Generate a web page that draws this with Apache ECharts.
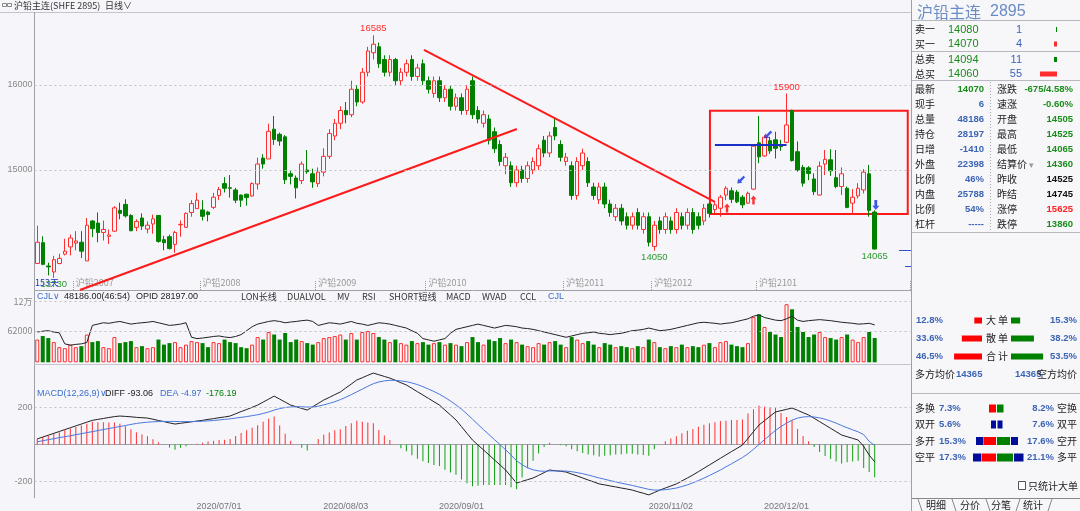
<!DOCTYPE html>
<html>
<head>
<meta charset="utf-8">
<script src="https://cdn.jsdelivr.net/npm/echarts/dist/echarts.min.js"></script>
<style>
  html, body { margin: 0; padding: 0; background: #f5f5fa; }
  #main { width: 1080px; height: 511px; }
</style>
</head>
<body>
<div id="main"></div>
<script>
// ---- trading days shown (153) ----
const tradingDays = [
  ['2020/05', [13,14,15,18,19,20,21,22,25,26,27,28,29]],
  ['2020/06', [1,2,3,4,5,8,9,10,11,12,15,16,17,18,19,22,23,24,29,30]],
  ['2020/07', [1,2,3,6,7,8,9,10,13,14,15,16,17,20,21,22,23,24,27,28,29,30,31]],
  ['2020/08', [3,4,5,6,7,10,11,12,13,14,17,18,19,20,21,24,25,26,27,28,31]],
  ['2020/09', [1,2,3,4,7,8,9,10,11,14,15,16,17,18,21,22,23,24,25,28,29,30]],
  ['2020/10', [9,12,13,14,15,16,19,20,21,22,23,26,27,28,29,30]],
  ['2020/11', [2,3,4,5,6,9,10,11,12,13,16,17,18,19,20,23,24,25,26,27,30]],
  ['2020/12', [1,2,3,4,7,8,9,10,11,14,15,16,17,18,21,22,23]]
];
const dates = tradingDays.flatMap(([m, ds]) => ds.map(d => m + '/' + String(d).padStart(2, '0')));

const opens = [
  13900,14145,13870,13800,13900,14010,14095,14140,14150,13930,
  14400,14375,14265,14220,14280,14525,14595,14465,14325,14435,
  14305,14365,14465,14180,14215,14125,14355,14325,14500,14545,
  14530,14505,14560,14700,14840,14790,14765,14705,14715,14695,
  14835,15140,15130,15480,15420,15390,14955,14905,14875,15000,
  14955,14840,14975,15160,15400,15550,15700,15650,15950,15800,
  16150,16380,16450,16300,16150,16300,16050,16150,16300,16100,
  16250,16050,15900,16050,15850,15950,15750,15850,15700,16050,
  15700,15550,15600,15450,15300,15050,15050,14850,15000,14900,
  15000,15050,15350,15200,15500,15300,15100,15050,14700,15050,
  15100,14800,14650,14800,14600,14450,14550,14450,14350,14500,
  14300,14450,14100,14400,14300,14400,14300,14450,14350,14500,
  14450,14400,14600,14535,14550,14705,14755,14740,14680,14610,
  14775,15320,15165,15345,15355,15300,15325,15700,15215,15030,
  15025,14895,14705,15070,15120,14910,14805,14785,14610,14695,
  14765,14955,14505
];
const closes = [
  14150,13890,13860,13945,13960,14045,14200,14165,14045,14350,
  14310,14265,14300,14235,14555,14490,14460,14285,14395,14340,
  14350,14425,14160,14145,14075,14265,14360,14490,14605,14645,
  14455,14475,14680,14770,14785,14785,14645,14645,14675,14840,
  15070,15070,15455,15360,15340,14885,14925,14790,15070,14980,
  14860,14975,15160,15430,15550,15700,15650,15950,15800,16150,
  16400,16480,16250,16150,16300,16050,16150,16250,16100,16200,
  16050,15950,16050,15850,15950,15750,15850,15700,15950,15650,
  15600,15650,15350,15250,15100,15150,14850,15000,14900,15050,
  15100,15250,15200,15400,15400,15150,15150,14700,15100,15200,
  14850,14700,14800,14600,14500,14550,14400,14350,14450,14350,
  14450,14150,14350,14300,14450,14300,14500,14350,14500,14300,
  14350,14550,14490,14590,14680,14785,14655,14625,14590,14725,
  15280,15155,15385,15225,15255,15275,15530,15110,15000,14845,
  14960,14745,15045,15125,14990,14805,14955,14560,14680,14785,
  14975,14525,14070
];
const lows = [
  13895,13880,13760,13730,13890,13995,13995,14055,13965,13930,
  14210,14150,14170,14130,14270,14420,14440,14280,14280,14295,
  14255,14250,14145,14055,14065,14025,14215,14320,14450,14540,
  14405,14395,14540,14645,14735,14675,14610,14565,14580,14685,
  14770,15015,15130,15295,15285,14835,14830,14665,14835,14955,
  14790,14800,14925,15130,15350,15480,15550,15620,15750,15780,
  16100,16300,16200,16100,16100,16000,16000,16100,16050,16050,
  16000,15900,15850,15800,15800,15700,15700,15650,15650,15600,
  15550,15500,15300,15200,15050,14950,14800,14800,14850,14850,
  14950,15000,15150,15150,15350,15100,15050,14650,14650,15000,
  14800,14650,14600,14550,14450,14400,14350,14300,14300,14300,
  14250,14100,14050,14250,14250,14250,14250,14300,14300,14250,
  14300,14350,14440,14490,14450,14645,14610,14610,14550,14600,
  14765,15080,15155,15190,15135,15225,15315,15100,14980,14805,
  14880,14705,14700,14940,14930,14785,14705,14550,14470,14665,
  14725,14450,14065
];
const highs = [
  14345,14220,13910,13990,14015,14190,14240,14280,14280,14435,
  14410,14500,14405,14300,14575,14615,14655,14480,14420,14490,
  14395,14475,14465,14225,14240,14285,14405,14500,14645,14730,
  14645,14520,14730,14800,14915,14940,14790,14710,14720,14855,
  15145,15185,15545,15635,15440,15410,15000,14935,15100,15235,
  15015,15030,15255,15480,15600,15750,15800,16050,16000,16200,
  16450,16585,16500,16350,16350,16320,16200,16300,16350,16250,
  16300,16100,16100,16100,16000,16000,15900,15900,16000,16100,
  15750,15700,15650,15500,15350,15200,15100,15050,15050,15100,
  15150,15300,15400,15450,15600,15350,15200,15100,15150,15250,
  15150,14850,14850,14850,14650,14600,14600,14500,14500,14550,
  14500,14500,14400,14450,14500,14450,14550,14500,14550,14550,
  14500,14600,14615,14625,14705,14810,14795,14765,14705,14745,
  15295,15635,15410,15390,15450,15355,15900,15710,15335,15060,
  15045,14960,15100,15235,15245,15235,15030,14805,14775,14845,
  15010,15060,14525
];
const volumes = [
  45000,52000,48000,40000,30000,28000,35000,30000,32000,55000,
  40000,42000,30000,28000,50000,38000,40000,42000,30000,32000,
  28000,30000,45000,35000,38000,40000,30000,35000,42000,40000,
  38000,30000,40000,38000,45000,40000,38000,30000,28000,35000,
  50000,45000,60000,55000,45000,58000,40000,45000,42000,38000,
  35000,40000,48000,50000,52000,55000,45000,58000,45000,60000,
  62000,58000,50000,45000,40000,45000,38000,35000,42000,38000,
  40000,35000,38000,40000,35000,38000,35000,32000,40000,50000,
  40000,35000,45000,42000,48000,38000,45000,40000,35000,32000,
  30000,38000,35000,40000,42000,35000,30000,50000,45000,38000,
  42000,35000,30000,38000,35000,30000,32000,30000,28000,32000,
  30000,45000,40000,30000,28000,32000,30000,35000,30000,32000,
  30000,35000,38000,30000,40000,42000,35000,32000,30000,38000,
  90000,95000,70000,60000,55000,50000,115000,105000,70000,60000,
  50000,55000,60000,50000,48000,45000,50000,55000,45000,40000,
  50000,60000,48186
];
const openInterest = [
  25500,25800,26000,25500,25200,21000,20500,20800,21000,21500,
  28000,28500,29000,28800,29200,29500,29000,28500,28800,29000,
  29200,29500,29000,28500,28000,28200,28500,29000,23500,23000,
  23200,23500,23800,24000,23600,23400,23800,24500,26000,27500,
  28500,29000,29500,29800,29500,29000,29300,29500,29800,30000,
  29500,28000,28500,29000,28800,28500,29000,29500,28800,28500,
  28000,28500,29000,28800,28500,28000,27500,27000,26000,25000,
  23000,22500,22000,22500,23000,25000,26500,27000,27500,28000,
  28500,28000,27500,27000,27500,28000,27800,27500,27000,26800,
  26500,26000,25500,25000,24500,24000,23500,24000,24500,25000,
  25200,25500,25000,24800,24500,24800,25000,25500,26000,26200,
  26500,27000,26500,26000,26200,26500,27000,27500,28000,28500,
  29000,29200,29000,28800,28500,28800,29000,29500,30000,30500,
  31500,32000,31000,30500,30000,29800,30500,31500,30000,29500,
  29800,30000,30200,30000,29800,29500,29200,29000,28800,28500,
  28600,28800,28197
];
const diffs = [
  30,40,50,60,70,80,90,100,110,120,
  130,135,140,145,150,153,151,149,146,144,
  142,136,129,123,116,110,114,118,122,126,
  130,135,139,144,148,153,165,177,188,200,
  212,228,244,260,244,228,212,203,194,185,
  203,221,239,253,268,282,304,325,347,359,
  372,384,375,366,357,345,332,320,302,284,
  266,248,230,212,185,159,132,96,60,24,
  -3,-29,-56,-83,-110,-137,-172,-207,-198,-189,
  -180,-166,-151,-137,-141,-144,-148,-159,-169,-180,
  -191,-201,-212,-217,-223,-228,-234,-239,-245,-254,
  -262,-271,-258,-245,-234,-223,-212,-196,-180,-164,
  -146,-128,-110,-92,-74,-56,-38,-21,-3,33,
  69,105,128,152,175,182,189,196,184,171,
  159,141,123,105,87,69,51,42,33,24,
  -10,-57,-93.06
];
const deas = [
  15,20,26,31,37,42,47,53,58,64,
  69,75,80,86,91,97,102,108,113,117,
  120,122,123,124,124,124,123,123,123,124,
  125,127,129,132,135,138,142,146,150,155,
  160,167,175,185,193,199,202,203,203,201,
  202,206,213,221,230,241,254,268,283,298,
  313,327,336,342,345,345,342,338,331,322,
  311,298,285,270,253,234,213,190,164,136,
  108,80,53,26,-1,-28,-57,-87,-109,-125,
  -136,-142,-144,-142,-142,-142,-143,-146,-151,-157,
  -164,-172,-180,-187,-194,-201,-208,-214,-220,-227,
  -234,-241,-245,-245,-243,-239,-234,-226,-217,-206,
  -194,-181,-167,-152,-137,-120,-104,-87,-70,-50,
  -26,0,26,51,76,97,115,131,142,148,
  150,148,143,136,126,115,102,90,79,68,
  53,17,-4.97
];
const macdBars = [
  30,40,48,58,66,76,86,94,104,112,
  122,120,120,118,118,112,98,82,66,54,
  44,28,12,-2,-16,-28,-18,-10,-2,4,
  10,16,20,24,26,30,46,62,76,90,
  104,122,138,150,102,58,20,0,-18,-32,
  2,30,52,64,76,82,100,114,128,122,
  118,114,78,48,24,0,-20,-36,-58,-76,
  -90,-100,-110,-116,-136,-150,-162,-188,-208,-224,
  -222,-218,-218,-218,-218,-218,-230,-240,-178,-128,
  -88,-48,-14,10,2,-4,-10,-26,-36,-46,
  -54,-58,-64,-60,-58,-54,-52,-50,-50,-54,
  -56,-60,-26,0,18,32,44,60,74,84,
  96,106,114,120,126,128,132,132,134,166,
  190,210,204,202,198,170,148,130,84,46,
  18,-14,-40,-62,-78,-92,-102,-96,-92,-88,
  -126,-148,-176.19
];

// axis marks
const contractMarks = {7: '沪铅2007', 30: '沪铅2008', 51: '沪铅2009', 71: '沪铅2010', 96: '沪铅2011', 112: '沪铅2012', 131: '沪铅2101'};
const dateMarks = ['2020/07/01', '2020/08/03', '2020/09/01', '2020/11/02', '2020/12/01'];
const priceLines = [16000, 15000];
const volumeLines = [[120000, '12万'], [62000, '62000']];
const macdLines = [200, -200];

// drawn studies (index, price)
const supportLine = [[7.75, 13588], [87.06, 15482]];
const resistLine = [[70.2, 16412], [123.0, 14624]];
const boxLine = [[123.0, 15294], [136.0, 15294]];
const boxArea = [[122.1, 15698], [158.0, 14482]];
const upArrows = [[125.2, 14553], [130.0, 14647]];
const diagArrows = [[127.7, 14882], [132.6, 15412]];
const downArrows = [[152.2, 14588]];

// ---------------------------------------------------------------
const RED = '#ff2e2e', GREEN = '#008000', BG = '#f5f5fa', BLUE = '#3c64b4';
const CJK = '"Noto Sans CJK SC", sans-serif';
const NUM = '"Liberation Sans", Arial, sans-serif';
const L = 34.5, W = 876, SLOTS = 159;
const axisCats = dates.concat(new Array(SLOTS - dates.length).fill(''));
const up = dates.map((d, i) => closes[i] >= opens[i]);
const arrowPath = 'path://M5,0 L10,5 L7,5 L7,12 L3,12 L3,5 L0,5 Z';

function text(x, y, s, fill, font, align) {
  return { type: 'text', silent: true, style: { x, y, text: s, fill, font, textAlign: align || 'left', textVerticalAlign: 'middle', verticalAlign: 'middle' } };
}
function hline(x1, x2, y, stroke, dash) {
  return { type: 'line', silent: true, shape: { x1, y1: y, x2, y2: y }, style: { stroke: stroke || '#b8b8c0', lineWidth: 1, lineDash: dash || null } };
}
function vline(x, y1, y2, stroke, dash) {
  return { type: 'line', silent: true, shape: { x1: x, y1, x2: x, y2 }, style: { stroke: stroke || '#b8b8c0', lineWidth: 1, lineDash: dash || null } };
}
function box(x, y, w, h, fill) {
  return { type: 'rect', silent: true, shape: { x, y, width: w, height: h }, style: { fill } };
}

const G = [];
// header
G.push({ type: 'rect', silent: true, shape: { x: 2.5, y: 3.5, width: 4, height: 3 }, style: { fill: 'none', stroke: '#888' } });
G.push({ type: 'rect', silent: true, shape: { x: 7.5, y: 3.5, width: 4, height: 3 }, style: { fill: 'none', stroke: '#888' } });
G.push(text(14, 5.5, '沪铅主连(SHFE 2895)', '#333', '9px ' + CJK));
G.push(text(105, 5.5, '日线∨', '#333', '9px ' + CJK));
G.push(hline(0, 911, 12.5, '#c4c4cc'));
G.push(vline(34.5, 12, 498, '#a0a0a8'));
G.push(hline(34, 911, 364.5, '#c4c4cc'));
G.push(text(35, 283, '153天', '#2030c0', '9px ' + CJK));
G.push(hline(899, 911, 250.5, '#3050d0'));
G.push(hline(905, 911, 266.5, '#3050d0'));

// volume header
G.push(text(37, 296.5, 'CJL∨', '#3a6fd0', '9px ' + NUM));
G.push(text(64, 296.5, '48186.00(46:54)', '#222', '9px ' + NUM));
G.push(text(136, 296.5, 'OPID 28197.00', '#222', '9px ' + NUM));
[['LON长线', 241], ['DUALVOL', 287], ['MV', 337], ['RSI', 362], ['SHORT短线', 389], ['MACD', 446], ['WVAD', 482], ['CCL', 520]]
  .forEach(([s, x]) => G.push(text(x, 296.5, s, '#333', '9px ' + CJK)));
G.push(text(548, 296.5, 'CJL', '#3a6fd0', '9px ' + NUM));

// macd header
G.push(text(37, 394, 'MACD(12,26,9)∨', '#3a6fd0', '9px ' + NUM));
G.push(text(105, 394, 'DIFF -93.06', '#222', '9px ' + NUM));
G.push(text(160, 394, 'DEA -4.97', '#3a6fd0', '9px ' + NUM));
G.push(text(206, 394, '-176.19', GREEN, '9px ' + NUM));

// right panel
G.push(box(912, 0, 168, 511, '#f7f7fa'));
G.push(vline(911.5, 0, 511, '#a0a0a8'));
G.push(text(917, 12, '沪铅主连', '#6a8cc4', '16px ' + CJK));
G.push(text(990, 12, '2895', '#6a8cc4', '16px ' + NUM));
[20.5, 51.5, 80.5, 232.5, 393.5].forEach(y => G.push(hline(912, 1080, y)));

const quoteRows = [
  ['卖一', '14080', '1', 29.5, GREEN, 1],
  ['买一', '14070', '4', 44, RED, 3],
  ['总卖', '14094', '11', 59.5, GREEN, 3],
  ['总买', '14060', '55', 74, RED, 17]
];
quoteRows.forEach(([lab, px, qty, y, c, w]) => {
  G.push(text(915, y, lab, '#222', '10px ' + CJK));
  G.push(text(948, y, px, '#1a8c1a', '11px ' + NUM));
  G.push(text(1022, y, qty, BLUE, '11px ' + NUM, 'right'));
  G.push(box(1057 - w, y - 2.5, w, 5, c));
});

const infoLeft = [['最新', '14070', '#1a8c1a'], ['现手', '6', BLUE], ['总量', '48186', BLUE], ['持仓', '28197', BLUE], ['日增', '-1410', BLUE],
  ['外盘', '22398', BLUE], ['比例', '46%', BLUE], ['内盘', '25788', BLUE], ['比例', '54%', BLUE], ['杠杆', '-----', BLUE]];
const infoRight = [['涨跌', '-675/4.58%', '#1a8c1a'], ['速涨', '-0.60%', '#1a8c1a'], ['开盘', '14505', '#1a8c1a'], ['最高', '14525', '#1a8c1a'],
  ['最低', '14065', '#1a8c1a'], ['结算价', '14360', '#1a8c1a'], ['昨收', '14525', '#111'], ['昨结', '14745', '#111'],
  ['涨停', '15625', '#ff2020'], ['跌停', '13860', '#1a8c1a']];
infoLeft.forEach(([lab, v, c], k) => {
  const y = 89.5 + 15 * k;
  G.push(text(915, y, lab, '#222', '10px ' + CJK));
  G.push(text(984, y, v, c, 'bold 9.5px ' + NUM, 'right'));
});
infoRight.forEach(([lab, v, c], k) => {
  const y = 89.5 + 15 * k;
  G.push(text(997, y, lab, '#222', '10px ' + CJK));
  G.push(text(1073, y, v, c, 'bold 9.5px ' + NUM, 'right'));
});
G.push(text(1029, 164.5, '▾', '#999', '9px ' + CJK));
G.push(vline(990.5, 82, 231, '#a8a8b0', [1, 2]));

// order flow
const flowRows = [['12.8%', '大 单', '15.3%', 12.8, 15.3, 320.5], ['33.6%', '散 单', '38.2%', 33.6, 38.2, 338.5], ['46.5%', '合 计', '53.5%', 46.5, 53.5, 356.5]];
flowRows.forEach(([lp, lab, rp, lv, rv, y]) => {
  G.push(text(916, y, lp, BLUE, 'bold 9.5px ' + NUM));
  G.push(box(982 - lv * 0.6, y - 3, lv * 0.6, 6, '#ff0000'));
  G.push(text(997, y, lab, '#222', '10px ' + CJK, 'center'));
  G.push(box(1011, y - 3, rv * 0.6, 6, GREEN));
  G.push(text(1077, y, rp, BLUE, 'bold 9.5px ' + NUM, 'right'));
});
G.push(text(915, 374.5, '多方均价', '#222', '10px ' + CJK));
G.push(text(956, 374.5, '14365', BLUE, 'bold 9.5px ' + NUM));
G.push(text(1015, 374.5, '14365', BLUE, 'bold 9.5px ' + NUM));
G.push(text(1077, 374.5, '空方均价', '#222', '10px ' + CJK, 'right'));

// position change
const posRows = [
  ['多换', '7.3%', '8.2%', '空换', 408.5, [[989, 7, '#ff0000'], [997, 6.5, GREEN]]],
  ['双开', '5.6%', '7.6%', '双平', 424.5, [[991, 5, '#000c9a'], [997.5, 5, '#000c9a']]],
  ['多开', '15.3%', '17.6%', '空开', 441, [[976, 7.5, '#000c9a'], [984, 12, '#ff0000'], [997, 13, GREEN], [1011, 7, '#000c9a']]],
  ['空平', '17.3%', '21.1%', '多平', 457.5, [[973, 8, '#000c9a'], [981.5, 14.5, '#ff0000'], [997, 16, GREEN], [1014, 9.5, '#000c9a']]]
];
posRows.forEach(([ll, lp, rp, rl, y, bars]) => {
  G.push(text(915, y, ll, '#222', '10px ' + CJK));
  G.push(text(939, y, lp, BLUE, 'bold 9.5px ' + NUM));
  G.push(text(1054, y, rp, BLUE, 'bold 9.5px ' + NUM, 'right'));
  G.push(text(1057, y, rl, '#222', '10px ' + CJK));
  bars.forEach(([x, w, c]) => G.push(box(x, y - 4, w, 8, c)));
});
G.push({ type: 'rect', silent: true, shape: { x: 1018.5, y: 481.5, width: 7, height: 8 }, style: { fill: '#fff', stroke: '#555' } });
G.push(text(1028, 486, '只统计大单', '#222', '10px ' + CJK));
G.push(hline(912, 1080, 498.5, '#888'));
[['明细', 936], ['分价', 970], ['分笔', 1001], ['统计', 1033]].forEach(([s, x]) => G.push(text(x, 505, s, '#222', '10px ' + CJK, 'center')));
[[918, 922], [952, 956], [986, 990]].forEach(([a, b]) => G.push({ type: 'line', silent: true, shape: { x1: a, y1: 499, x2: b, y2: 511 }, style: { stroke: '#888', lineWidth: 1 } }));
[[1020, 1016], [1052, 1048]].forEach(([a, b]) => G.push({ type: 'line', silent: true, shape: { x1: a, y1: 499, x2: b, y2: 511 }, style: { stroke: '#888', lineWidth: 1 } }));

// ---------------------------------------------------------------
const chart = echarts.init(document.getElementById('main'));
const hiddenCat = (grid) => ({ type: 'category', gridIndex: grid, data: axisCats, boundaryGap: true, show: false });
const labelMark = (i, v, txt, color, pos) => ({
  coord: [i, v], value: txt, symbol: 'rect', symbolSize: 1, itemStyle: { color: 'rgba(0,0,0,0)' },
  label: { show: true, position: pos, distance: 1, color, fontSize: 9.5, fontFamily: NUM, formatter: txt }
});
const dashed = { type: [2, 3], color: '#c0c0c8', width: 1 };

chart.setOption({
  animation: false,
  backgroundColor: BG,
  grid: [
    { left: L, width: W, top: 13, height: 277 },
    { left: L, width: W, top: 301.7, height: 60.6 },
    { left: L, width: W, top: 365, height: 133 }
  ],
  xAxis: [
    {
      type: 'category', gridIndex: 0, data: axisCats, boundaryGap: true,
      axisLine: { lineStyle: { color: '#a0a0a8' } },
      axisTick: { show: true, inside: true, length: 9, interval: (i) => contractMarks[i] !== undefined, lineStyle: { color: '#999', type: [1, 1] } },
      axisLabel: { inside: true, margin: 3, align: 'left', interval: (i) => contractMarks[i] !== undefined, formatter: (v, i) => contractMarks[i] || '', color: '#999', fontSize: 9, fontFamily: CJK },
      splitLine: { show: false }
    },
    hiddenCat(1),
    {
      type: 'category', gridIndex: 2, data: axisCats, boundaryGap: true,
      axisLine: { lineStyle: { color: '#a0a0a8' } },
      axisTick: { show: false },
      axisLabel: { margin: 4, interval: (i, v) => dateMarks.includes(v), color: '#777', fontSize: 9, fontFamily: NUM },
      splitLine: { show: false }
    },
    { type: 'value', gridIndex: 0, min: -0.5, max: SLOTS - 0.5, show: false }
  ],
  yAxis: [
    { type: 'value', gridIndex: 0, min: 13588, max: 16847, show: false },
    { type: 'value', gridIndex: 1, min: 0, max: 120000, show: false },
    { type: 'value', gridIndex: 1, min: 14000, max: 37000, show: false },
    { type: 'value', gridIndex: 2, min: -287.6, max: 427.4, show: false }
  ],
  graphic: { elements: G },
  series: [
    {
      type: 'candlestick', xAxisIndex: 0, yAxisIndex: 0, barWidth: 4,
      data: dates.map((d, i) => [opens[i], closes[i], lows[i], highs[i]]),
      itemStyle: { color: BG, color0: GREEN, borderColor: RED, borderColor0: GREEN, borderWidth: 1 },
      markLine: {
        silent: true, symbol: ['none', 'none'], lineStyle: dashed,
        label: { position: 'start', distance: 2, color: '#888', fontSize: 9, fontFamily: NUM },
        data: priceLines.map(v => ({ yAxis: v, label: { formatter: String(v) } }))
      },
      markPoint: {
        silent: true,
        data: [
          labelMark(61, 16585, '16585', RED, 'top'),
          labelMark(136, 15900, '15900', RED, 'top'),
          labelMark(112, 14050, '14050', '#2f9a2f', 'bottom'),
          labelMark(152, 14065, '14065', '#2f9a2f', 'bottom'),
          labelMark(3, 13730, '13730', '#2f9a2f', 'bottom')
        ]
      }
    },
    { type: 'line', xAxisIndex: 3, yAxisIndex: 0, data: supportLine, symbol: 'none', silent: true, lineStyle: { color: '#ff1a1a', width: 2 } },
    {
      type: 'line', xAxisIndex: 3, yAxisIndex: 0, data: resistLine, symbol: 'none', silent: true, lineStyle: { color: '#ff1a1a', width: 2 },
      markArea: { silent: true, itemStyle: { color: 'rgba(0,0,0,0)', borderColor: '#ff1a1a', borderWidth: 2 }, data: [[{ coord: boxArea[0] }, { coord: boxArea[1] }]] }
    },
    { type: 'line', xAxisIndex: 3, yAxisIndex: 0, data: boxLine, symbol: 'none', silent: true, lineStyle: { color: '#1a30c8', width: 2 } },
    {
      type: 'scatter', xAxisIndex: 3, yAxisIndex: 0, silent: true,
      data: upArrows.map(p => ({ value: p, symbol: arrowPath, symbolSize: [6, 9], symbolRotate: 0, itemStyle: { color: '#ff0000' } }))
        .concat(diagArrows.map(p => ({ value: p, symbol: arrowPath, symbolSize: [6, 10], symbolRotate: 135, itemStyle: { color: '#1030e0' } })))
        .concat(downArrows.map(p => ({ value: p, symbol: arrowPath, symbolSize: [7, 10], symbolRotate: 180, itemStyle: { color: '#1030e0' } })))
    },
    {
      type: 'bar', xAxisIndex: 1, yAxisIndex: 1, barWidth: 4, silent: true,
      data: volumes.map((v, i) => ({ value: v, itemStyle: up[i] ? { color: BG, borderColor: RED, borderWidth: 1 } : { color: GREEN } })),
      markLine: {
        silent: true, symbol: ['none', 'none'], lineStyle: dashed,
        label: { position: 'start', distance: 2, color: '#888', fontSize: 9, fontFamily: CJK },
        data: volumeLines.map(([v, s]) => ({ yAxis: v, label: { formatter: s } }))
      }
    },
    { type: 'line', xAxisIndex: 1, yAxisIndex: 2, data: openInterest, symbol: 'none', silent: true, lineStyle: { color: '#222', width: 1 } },
    {
      type: 'bar', xAxisIndex: 2, yAxisIndex: 3, barWidth: 1, silent: true,
      data: macdBars.map(v => ({ value: v, itemStyle: { color: v >= 0 ? '#ff3030' : '#12a012' } })),
      markLine: {
        silent: true, symbol: ['none', 'none'], lineStyle: dashed,
        label: { position: 'start', distance: 2, color: '#888', fontSize: 9, fontFamily: NUM },
        data: macdLines.map(v => ({ yAxis: v, label: { formatter: String(v) } }))
      }
    },
    { type: 'line', xAxisIndex: 2, yAxisIndex: 3, data: diffs, symbol: 'none', silent: true, lineStyle: { color: '#222', width: 1 } },
    { type: 'line', xAxisIndex: 2, yAxisIndex: 3, data: deas, symbol: 'none', silent: true, lineStyle: { color: '#4a78e0', width: 1 } }
  ]
});
</script>
</body>
</html>
